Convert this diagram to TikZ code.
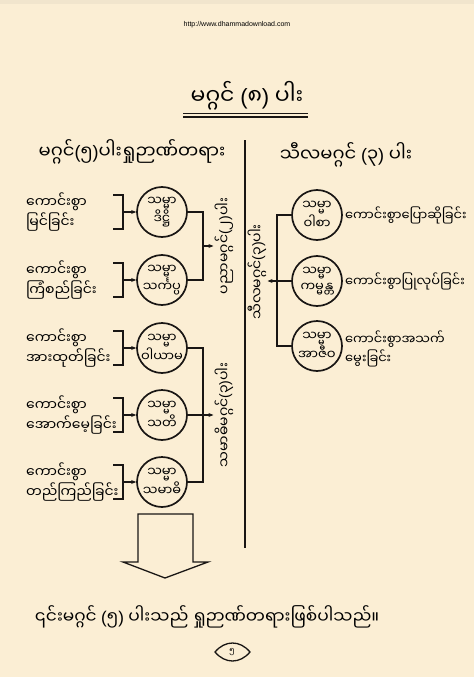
\documentclass[tikz,border=0pt]{standalone}
\usepackage{fontspec}
\usepackage{tikz}
\usetikzlibrary{arrows.meta}
\newfontfamily\mmfont[Script=Myanmar]{Noto Sans Myanmar UI}
\newfontfamily\urlfont{Liberation Sans}
\newcommand{\mlp}{{\urlfont(}}
\newcommand{\mrp}{{\urlfont)}}
\definecolor{paper}{RGB}{251,238,212}
\definecolor{ink}{RGB}{25,22,20}
\tikzset{
  >={Stealth[length=5pt,width=4pt]},
  factor/.style={circle,draw=ink,line width=1.7pt,minimum size=50pt,inner sep=0pt,
    align=center,font=\mmfont\fontsize{13}{16}\selectfont},
  meaning/.style={anchor=west,align=left,inner sep=0pt,font=\mmfont\fontsize{14}{20}\selectfont},
  rmeaning/.style={meaning,font=\mmfont\fontsize{13}{21}\selectfont},
  group/.style={rotate=90,inner sep=1pt,font=\mmfont\fontsize{14}{16}\selectfont},
  link/.style={draw=ink,line width=1.3pt},
}
\begin{document}
\begin{tikzpicture}[x=1pt,y=-1pt]
  \fill[paper] (0,0) rectangle (474,677);
  \fill[paper!92!gray] (0,0) rectangle (474,4);
  \node[font=\urlfont\fontsize{7}{8}\selectfont] (url) at (237,25) {http://www.dhammadownload.com};
  \node[font=\mmfont\fontsize{22}{26}\selectfont] (title) at (247,96) {မဂ္ဂင် \mlp ၈\mrp\ ပါး};
  \draw[ink,line width=0.7pt] (183,113) -- (308,113);
  \draw[ink,line width=2.2pt] (183,117) -- (308,117);
  \node[font=\mmfont\fontsize{18}{20}\selectfont] (lhead) at (132,152) {မဂ္ဂင်\mlp ၅\mrp ပါးရှုဉာဏ်တရား};
  \node[font=\mmfont\fontsize{18}{20}\selectfont] (rhead) at (346,155) {သီလမဂ္ဂင် \mlp ၃\mrp\ ပါး};
  \draw[ink,line width=2.6pt] (245,140) -- (245,548);
  % left column
  \foreach \n/\y/\pali/\act in {1/212/ဒိဋ္ဌိ/မြင်ခြင်း, 2/280/သင်္ကပ္ပ/ကြံစည်ခြင်း,
      3/348/ဝါယာမ/အားထုတ်ခြင်း, 4/415/သတိ/အောက်မေ့ခြင်း, 5/482/သမာဓိ/တည်ကြည်ခြင်း}{
    \node[factor] (L\n) at (162,\y) {သမ္မာ\\\pali};
    \node[meaning] (M\n) at (26,\y) {ကောင်းစွာ\\\act};
    \coordinate (B\n) at (123,\y);
    \draw[link] (113,\y-17) -- (123,\y-17) -- (123,\y+17) -- (113,\y+17);
    \draw[link,->] (B\n) -- (L\n);
  }
  \node[group] (panna) at (224,246) {ပညာမဂ္ဂင်\mlp ၂\mrp ပါး};
  \node[group] (samadhi) at (224,415) {သမာဓိမဂ္ဂင်\mlp ၃\mrp ပါး};
  \coordinate (pj) at (203,246);
  \coordinate (sj) at (203,415);
  \draw[link] (L1.east) -| (pj) |- (L2.east);
  \draw[link,->] (pj) -- (panna.north);
  \draw[link] (L3.east) -| (sj) |- (L5.east);
  \draw[link,->] (L4.east) -- (samadhi.north);
  % right column
  \foreach \n/\y/\pali in {1/215/ဝါစာ, 2/281/ကမ္မန္တ, 3/346/အာဇီဝ}
    \node[factor] (R\n) at (317,\y) {သမ္မာ\\\pali};
  \node[rmeaning] (N1) at (345,215) {ကောင်းစွာပြောဆိုခြင်း};
  \node[rmeaning] (N2) at (345,281) {ကောင်းစွာပြုလုပ်ခြင်း};
  \node[rmeaning,font=\mmfont\fontsize{13}{19}\selectfont] (N3) at (345,349) {ကောင်းစွာအသက်\\မွေးခြင်း};
  \node[group] (sila) at (257,272) {သီလမဂ္ဂင်\mlp ၃\mrp ပါး};
  \coordinate (rj) at (277,281);
  \draw[link] (R1.west) -| (rj) |- (R3.west);
  \draw[link,->] (R2.west) -- (R2.west -| sila.south);
  % result
  \draw[ink,line width=1.3pt] (138,514) -- (193,514) -- (193,562) -- (208,562)
    -- (165,578) -- (123,562) -- (138,562) -- cycle;
  \node[font=\mmfont\fontsize{17}{20}\selectfont] (summary) at (207,617)
    {၎င်းမဂ္ဂင် \mlp ၅\mrp\ ပါးသည် ရှုဉာဏ်တရားဖြစ်ပါသည်။};
  \draw[ink,line width=1.3pt] (215,652) .. controls (225,640) and (240,640) .. (250,652)
    .. controls (240,664) and (225,664) .. (215,652) -- cycle;
  \node[font=\mmfont\fontsize{8}{9}\selectfont] (page) at (232,652) {၅};
\end{tikzpicture}
\end{document}
